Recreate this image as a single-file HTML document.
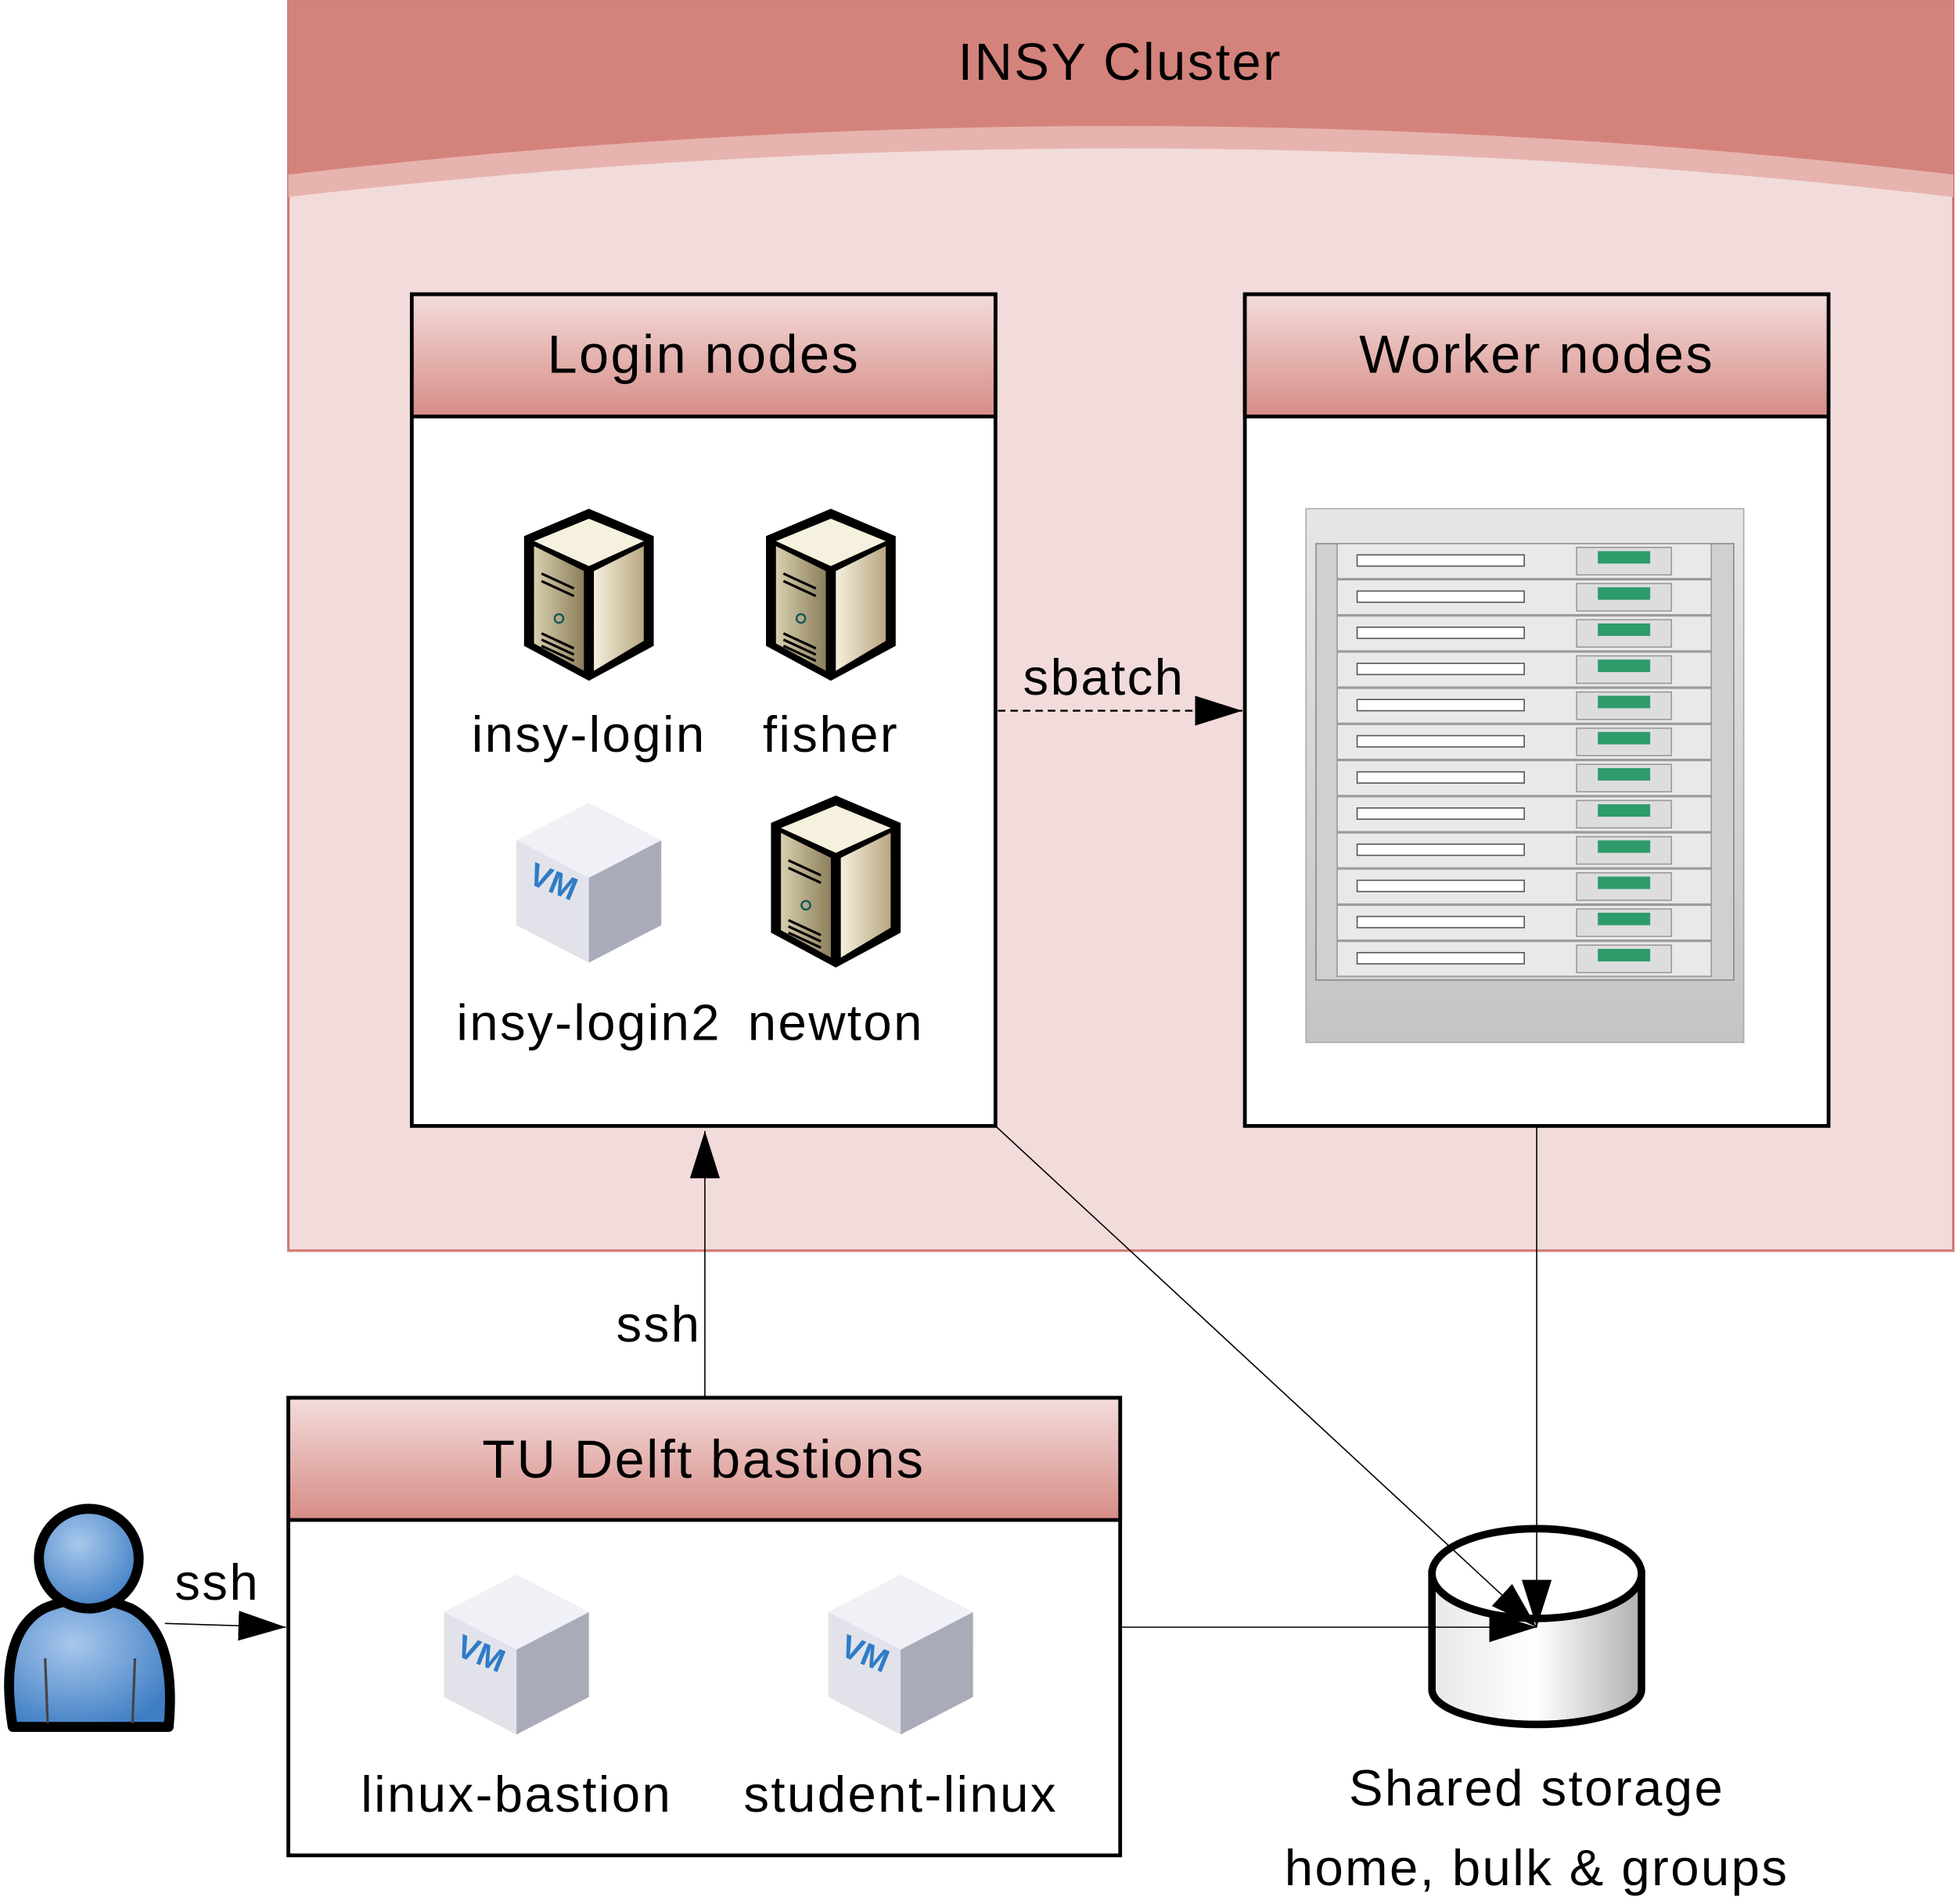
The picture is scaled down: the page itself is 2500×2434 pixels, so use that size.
<!DOCTYPE html>
<html><head><meta charset="utf-8"><style>
html,body{margin:0;padding:0;background:#fff}
svg{display:block}
text{font-family:"Liberation Sans",sans-serif;fill:#000;letter-spacing:1.5px}
</style></head><body>
<svg width="2500" height="2434" viewBox="0 0 1568 1527" xmlns="http://www.w3.org/2000/svg">
<defs>
<linearGradient id="hdr" x1="0" y1="0" x2="0" y2="1"><stop offset="0" stop-color="#f3dcdb"/><stop offset="1" stop-color="#d78c86"/></linearGradient>
<linearGradient id="srv" x1="0" y1="0" x2="1" y2="0"><stop offset="0" stop-color="#f4efdc"/><stop offset="1" stop-color="#b8a882"/></linearGradient>
<linearGradient id="srvs" x1="0" y1="0" x2="1" y2="0"><stop offset="0" stop-color="#d8cfae"/><stop offset="1" stop-color="#8c7f5c"/></linearGradient>
<linearGradient id="rack" x1="0" y1="0" x2="0" y2="1"><stop offset="0" stop-color="#e6e6e6"/><stop offset="1" stop-color="#c4c4c4"/></linearGradient>
<radialGradient id="per" cx="0.4" cy="0.35" r="0.7"><stop offset="0" stop-color="#a8c8ec"/><stop offset="1" stop-color="#3f7ec4"/></radialGradient>
<linearGradient id="cyl" x1="0" y1="0" x2="1" y2="0"><stop offset="0" stop-color="#e8e8e8"/><stop offset="0.5" stop-color="#ffffff"/><stop offset="1" stop-color="#b0b0b0"/></linearGradient>
<marker id="arb" markerWidth="38" markerHeight="24" refX="38" refY="12" orient="auto" markerUnits="userSpaceOnUse" viewBox="0 0 38 24"><path d="M0,0 L38,12 L0,24 z" fill="#000"/></marker>
<g id="server">
<path d="M-52,-48 L0,-70 L52,-48 L52,40 L0,68 L-52,40 z" fill="#000"/>
<path d="M-44,-44 L0,-62 L44,-44 L0,-24 z" fill="#f6f1de"/>
<path d="M-44,-40 L-4,-20 L-4,60 L-44,38 z" fill="url(#srvs)"/>
<path d="M4,-20 L44,-40 L44,36 L4,60 z" fill="url(#srv)"/>
<circle cx="-24" cy="18" r="3.5" fill="none" stroke="#155" stroke-width="1.5"/>
<path d="M-38,-18 L-12,-6 M-38,-12 L-12,0 M-38,30 L-12,42 M-38,35 L-12,47 M-38,40 L-12,52" stroke="#000" stroke-width="2"/>
</g>
<g id="vm">
<path d="M0,-64 L58,-34 L58,34 L0,64 L-58,34 L-58,-34 z" fill="#c9cbd6"/>
<path d="M0,-64 L58,-34 L0,-4 L-58,-34 z" fill="#f0f1f6"/>
<path d="M-58,-34 L0,-4 L0,64 L-58,34 z" fill="#e2e3ea"/>
<path d="M0,-4 L58,-34 L58,34 L0,64 z" fill="#a9abb9"/>
<text x="-50" y="0" font-size="26" font-weight="bold" style="fill:#2f7cc8;letter-spacing:0" transform="rotate(22 -50 0)">VM</text>
</g>
<g id="unit"><rect x="1072" y="0" width="300" height="28" fill="#e9e9e9" stroke="#999"/><rect x="1088" y="9" width="134" height="9" fill="#fff" stroke="#555"/><rect x="1264" y="3" width="76" height="22" fill="#ddd" stroke="#999"/><rect x="1281" y="6" width="42" height="10" fill="#2e9b6a"/></g>
</defs>

<rect x="231" y="1" width="1335" height="1002" fill="#f2dcdb" stroke="#d07a75" stroke-width="2"/>
<path d="M231,1 H1566 V158 Q900,80 231,158 z" fill="#e7b3ae"/>
<path d="M231,1 H1566 V140 Q900,62 231,140 z" fill="#d4837c"/>
<text x="898" y="64" font-size="42" text-anchor="middle">INSY Cluster</text>

<rect x="330" y="236" width="468" height="667" fill="#fff" stroke="#000" stroke-width="3"/>
<rect x="330" y="236" width="468" height="98" fill="url(#hdr)" stroke="#000" stroke-width="3"/>
<text x="564" y="299" font-size="43" text-anchor="middle">Login nodes</text>
<use href="#server" x="472" y="478"/>
<use href="#server" x="666" y="478"/>
<use href="#vm" x="472" y="708"/>
<use href="#server" x="670" y="708"/>
<text x="472" y="603" font-size="41" text-anchor="middle">insy-login</text>
<text x="666" y="603" font-size="41" text-anchor="middle">fisher</text>
<text x="472" y="834" font-size="41" text-anchor="middle">insy-login2</text>
<text x="670" y="834" font-size="41" text-anchor="middle">newton</text>

<rect x="998" y="236" width="468" height="667" fill="#fff" stroke="#000" stroke-width="3"/>
<rect x="998" y="236" width="468" height="98" fill="url(#hdr)" stroke="#000" stroke-width="3"/>
<text x="1232" y="299" font-size="43" text-anchor="middle">Worker nodes</text>
<rect x="1047" y="408" width="351" height="428" fill="url(#rack)" stroke="#aaa"/>
<rect x="1055" y="436" width="335" height="350" fill="#d0d0d0" stroke="#888"/>
<use href="#unit" y="436"/><use href="#unit" y="465"/><use href="#unit" y="494"/><use href="#unit" y="523"/>
<use href="#unit" y="552"/><use href="#unit" y="581"/><use href="#unit" y="610"/><use href="#unit" y="639"/>
<use href="#unit" y="668"/><use href="#unit" y="697"/><use href="#unit" y="726"/><use href="#unit" y="755"/>

<line x1="800" y1="570" x2="996" y2="570" stroke="#000" stroke-width="1.5" stroke-dasharray="6,4" marker-end="url(#arb)"/>
<text x="885" y="557" font-size="41" text-anchor="middle">sbatch</text>

<rect x="231" y="1121" width="667" height="367" fill="#fff" stroke="#000" stroke-width="3"/>
<rect x="231" y="1121" width="667" height="98" fill="url(#hdr)" stroke="#000" stroke-width="3"/>
<text x="564" y="1185" font-size="43" text-anchor="middle">TU Delft bastions</text>
<use href="#vm" x="414" y="1327"/>
<use href="#vm" x="722" y="1327"/>
<text x="414" y="1453" font-size="41" text-anchor="middle">linux-bastion</text>
<text x="722" y="1453" font-size="41" text-anchor="middle">student-linux</text>

<line x1="565" y1="1120" x2="565" y2="907" stroke="#000" stroke-width="1" marker-end="url(#arb)"/>
<text x="528" y="1076" font-size="41" text-anchor="middle">ssh</text>

<path d="M10,1385 Q-2,1310 35,1290 Q70,1275 105,1290 Q142,1310 135,1385 Z" fill="url(#per)" stroke="#000" stroke-width="8" stroke-linejoin="round"/>
<circle cx="71" cy="1250" r="40" fill="url(#per)" stroke="#000" stroke-width="8"/>
<path d="M36,1330 L38,1382 M108,1330 L106,1382" stroke="#444" stroke-width="2" fill="none"/>
<line x1="132" y1="1302" x2="229" y2="1305" stroke="#000" stroke-width="1" marker-end="url(#arb)"/>
<text x="174" y="1283" font-size="41" text-anchor="middle">ssh</text>

<path d="M1148,1262 L1148,1355 A84,28 0 0 0 1316,1355 L1316,1262 Z" fill="url(#cyl)" stroke="#000" stroke-width="6"/>
<ellipse cx="1232" cy="1262" rx="84" ry="36" fill="#fff" stroke="#000" stroke-width="6"/>
<line x1="898" y1="1305" x2="1232" y2="1305" stroke="#000" stroke-width="1" marker-end="url(#arb)"/>
<line x1="798" y1="903" x2="1232" y2="1305" stroke="#000" stroke-width="1" marker-end="url(#arb)"/>
<line x1="1232" y1="903" x2="1232" y2="1305" stroke="#000" stroke-width="1" marker-end="url(#arb)"/>
<text x="1232" y="1448" font-size="41" text-anchor="middle">Shared storage</text>
<text x="1232" y="1512" font-size="41" text-anchor="middle">home, bulk &amp; groups</text>
</svg>
</body></html>
